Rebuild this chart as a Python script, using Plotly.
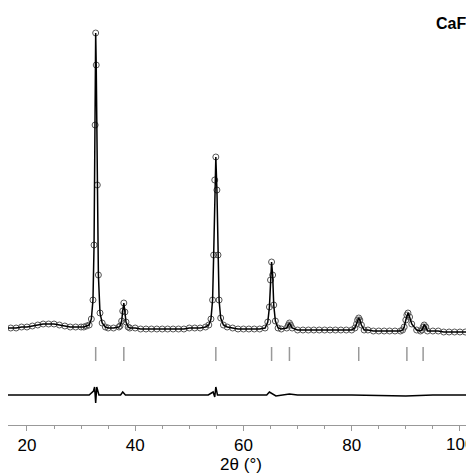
import plotly.graph_objects as go

tt = [15,16,17,18,19,20,21,22,23,24,25,26,27,28,29,30,30.5,31,31.5,31.9,32.2,32.4,32.6,32.7,32.8,33.0,33.2,33.5,33.9,34.5,35,36,37,37.2,37.5,37.7,37.9,38.1,38.3,38.7,39,40,41,42,43,44,45,46,47,48,49,50,51,52,53,53.6,54.0,54.3,54.5,54.7,54.9,55.1,55.3,55.5,55.8,56.3,57,58,59,60,61,62,63,64.0,64.5,64.8,65.0,65.2,65.4,65.6,65.9,66.4,67,68.0,68.3,68.5,68.7,69.0,70,71,72,73,74,75,76,77,78,79,80,80.6,80.9,81.1,81.3,81.5,81.8,82.3,83,84,85,86,87,88,89,89.4,89.7,90.0,90.2,90.4,90.7,91.1,92,92.7,93.0,93.2,93.4,93.7,94,95,96,97,98,99,100,101,102,103]
inten = [97,97,97,97,98,98,99,100,101,101,101,100,99,98,98,98,98,99,100,106,125,180,300,392,360,240,150,112,102,98,97,97,98,99,104,114,122,113,103,98,97,97,96,96,96,96,96,96,96,96,96,97,97,97,98,100,106,125,170,245,268,235,170,125,107,100,98,97,96,96,96,96,96,97,103,118,145,163,150,120,104,97,96,97,100,102,100,97,95,95,95,95,95,95,95,95,95,95,95,97,101,105,107,105,100,95,95,94,94,94,94,94,94,95,98,105,110,112,108,101,95,94,95,98,100,98,94,94,94,93,93,93,93,93,93,93,92]
diff_tt = [15,20,25,30,31.5,32.3,32.5,32.7,32.9,33.3,35,37.3,37.7,38.2,40,45,50,53.5,54.4,54.7,54.9,55.2,56,60,64.3,64.8,65.3,66,68.5,70,80,90,95,103]
diff_i = [30,30,30,30,30,34,38,22,38,30,30,30,33,30,30,30,30,30,33,28,38,30,30,30,30,33,31,29,31,30,30,29,30,30]
refl = [32.7,37.9,54.9,65.2,68.5,81.3,90.2,93.2]
refl_y = [71]*len(refl)
xticks = [20, 40, 60, 80, 100]

fig = go.Figure()
fig.add_trace(go.Scatter(x=tt, y=inten, mode="markers",
    marker=dict(symbol="circle-open", size=6, color="#555", line=dict(width=1))))
fig.add_trace(go.Scatter(x=tt, y=inten, mode="lines", line=dict(color="black", width=1.5)))
fig.add_trace(go.Scatter(x=refl, y=refl_y, mode="markers",
    marker=dict(symbol="line-ns", size=10, line=dict(color="#999", width=1.5))))
fig.add_trace(go.Scatter(x=diff_tt, y=diff_i, mode="lines", line=dict(color="black", width=1.5)))

fig.update_layout(width=466, height=466, margin=dict(l=0, r=0, t=0, b=49, autoexpand=False),
    plot_bgcolor="white", paper_bgcolor="white", showlegend=False,
    font=dict(family="Liberation Sans, Arial", color="black"))
fig.update_xaxes(range=[16.5, 102.6], tickvals=xticks,
    ticktext=[str(v) if v < 100 else "" for v in xticks], ticks="outside", ticklen=5,
    tickcolor="#999", showline=True, linecolor="#999", showgrid=False, zeroline=False,
    tickfont=dict(size=17), title=dict(text="2θ (°)", font=dict(size=17), standoff=0),
    automargin=False,
    minor=dict(tickvals=[25,30,35,45,50,55,65,70,75,85,90,95], ticks="outside", ticklen=3, tickcolor="#999"))
fig.update_yaxes(range=[0, 417], visible=False)
fig.add_annotation(xref="x", yref="paper", x=xticks[-1], y=0, yshift=-8, yanchor="top",
    text=str(xticks[-1]), showarrow=False, font=dict(size=17))
fig.add_annotation(xref="paper", yref="paper", x=0.915, y=0.96, xanchor="left", yanchor="middle",
    text="<b>CaF<sub>2</sub></b>", showarrow=False, font=dict(size=16))
fig.write_html("out.html")
